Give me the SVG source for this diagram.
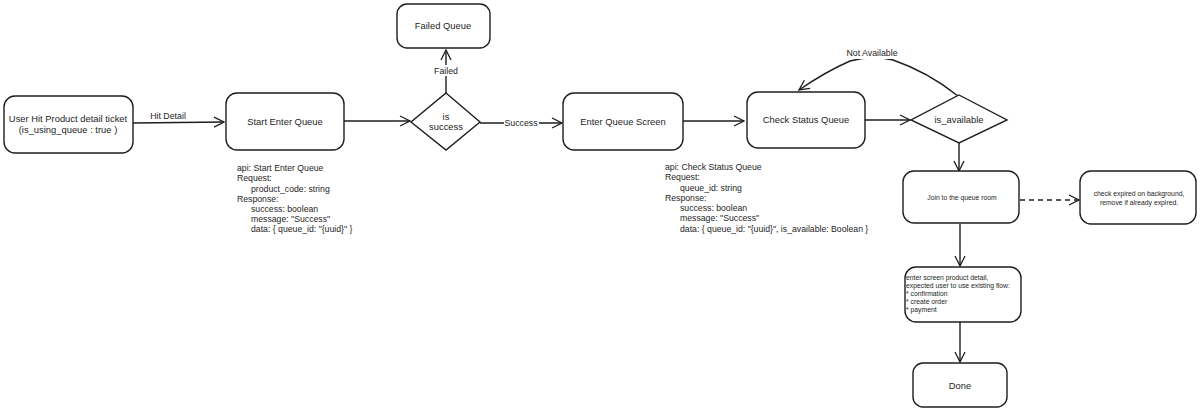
<svg xmlns="http://www.w3.org/2000/svg" width="1200" height="412" viewBox="0 0 1200 412">
<defs>
<style>
.n{fill:#fff;stroke:#1e1e1e;stroke-width:1.4}
.t{font-family:"Liberation Sans",Arial,sans-serif;font-size:9.4px;fill:#1e1e1e;text-anchor:middle}
.s{font-family:"Liberation Sans",Arial,sans-serif;font-size:6.8px;fill:#1e1e1e}
.a{font-family:"Liberation Sans",Arial,sans-serif;font-size:8.7px;fill:#1e1e1e}
.c{fill:none;stroke:#1e1e1e;stroke-width:1.4}
.l{font-family:"Liberation Sans",Arial,sans-serif;font-size:8.8px;fill:#1e1e1e;text-anchor:middle}
</style>
<marker id="ah" viewBox="0 0 12 12" refX="11" refY="6" markerWidth="12" markerHeight="12" markerUnits="userSpaceOnUse" orient="auto">
<path d="M1 1 L11 6 L1 11" fill="none" stroke="#1e1e1e" stroke-width="1.3"/>
</marker>
</defs>
<rect width="1200" height="412" fill="#fff"/>
<g id="connectors">
<path class="c" d="M133 123 L224 122" marker-end="url(#ah)"/>
<text class="l" x="168" y="119">Hit Detail</text>
<path class="c" d="M344 121 L410 121" marker-end="url(#ah)"/>
<path class="c" d="M446 93 L446 50" marker-end="url(#ah)"/>
<rect x="431" y="65" width="30" height="11" fill="#fff"/>
<text class="l" x="446" y="74">Failed</text>
<path class="c" d="M480 123 L562 123" marker-end="url(#ah)"/>
<rect x="504" y="118" width="35" height="10" fill="#fff"/>
<text class="l" x="521" y="126">Success</text>
<path class="c" d="M683 121 L744 121" marker-end="url(#ah)"/>
<path class="c" d="M865 120 L910 120" marker-end="url(#ah)"/>
<path class="c" d="M958 96 Q 928 72 893 60 Q 872 55 850 61 Q 825 72 799 90" marker-end="url(#ah)"/>
<rect x="844" y="48" width="56" height="11" fill="#fff"/>
<text class="l" x="872" y="56">Not Available</text>
<path class="c" d="M959 143 L959 171" marker-end="url(#ah)"/>
<path class="c" d="M1020 200 L1079 200" stroke-dasharray="5 4" marker-end="url(#ah)"/>
<path class="c" d="M960 224 L960 266" marker-end="url(#ah)"/>
<path class="c" d="M960 322 L960 362" marker-end="url(#ah)"/>
</g>
<g id="user-hit">
<rect class="n" x="4" y="96" width="129" height="57" rx="11"/>
<text class="t" x="68" y="122">User Hit Product detail ticket</text>
<text class="t" x="68" y="133">(is_using_queue : true )</text>
</g>
<g id="start-enter-queue">
<rect class="n" x="226" y="93" width="118" height="57" rx="11"/>
<text class="t" x="285" y="125">Start Enter Queue</text>
</g>
<g id="is-success">
<path class="n" d="M446 93 L480 122 L446 150 L411 122 Z"/>
<text class="t" x="446" y="120">is</text>
<text class="t" x="446" y="130">success</text>
</g>
<g id="failed-queue">
<rect class="n" x="397" y="4" width="93" height="44" rx="10"/>
<text class="t" x="443" y="29">Failed Queue</text>
</g>
<g id="enter-queue-screen">
<rect class="n" x="563" y="93" width="120" height="57" rx="11"/>
<text class="t" x="623" y="125">Enter Queue Screen</text>
</g>
<g id="check-status-queue">
<rect class="n" x="747" y="92" width="118" height="56" rx="11"/>
<text class="t" x="806" y="123">Check Status Queue</text>
</g>
<g id="is-available">
<path class="n" d="M959 95 L1007 120 L959 143 L911 120 Z"/>
<text class="t" x="959" y="123">is_available</text>
</g>
<g id="join-queue-room">
<rect class="n" x="903" y="171" width="116" height="52" rx="11"/>
<text class="s" x="962" y="200" text-anchor="middle" font-size="7.2">Join to the queue room</text>
</g>
<g id="check-expired">
<rect class="n" x="1080" y="171" width="116" height="53" rx="11"/>
<text class="s" x="1139" y="196" text-anchor="middle" font-size="7.2">check expired on background,</text>
<text class="s" x="1139" y="205" text-anchor="middle" font-size="7.2">remove if already expired.</text>
</g>
<g id="enter-screen-product">
<rect class="n" x="905" y="267" width="116" height="55" rx="11"/>
<text class="s" x="906" y="280">enter screen product detail,</text>
<text class="s" x="906" y="288">expected user to use existing flow:</text>
<text class="s" x="906" y="296">* confirmation</text>
<text class="s" x="906" y="304">* create order</text>
<text class="s" x="906" y="312">* payment</text>
</g>
<g id="done">
<rect class="n" x="913" y="363" width="94" height="44" rx="10"/>
<text class="t" x="960" y="389">Done</text>
</g>
<g id="api-start-enter-queue">
<text class="a" x="237" y="171">api: Start Enter Queue</text>
<text class="a" x="237" y="181">Request:</text>
<text class="a" x="251" y="192">product_code: string</text>
<text class="a" x="237" y="202">Response:</text>
<text class="a" x="251" y="212">success: boolean</text>
<text class="a" x="251" y="222">message: "Success"</text>
<text class="a" x="251" y="232">data: { queue_id: "{uuid}" }</text>
</g>
<g id="api-check-status-queue">
<text class="a" x="665" y="170">api: Check Status Queue</text>
<text class="a" x="665" y="180">Request:</text>
<text class="a" x="680" y="191">queue_id: string</text>
<text class="a" x="665" y="201">Response:</text>
<text class="a" x="680" y="211">success: boolean</text>
<text class="a" x="680" y="221">message: "Success"</text>
<text class="a" x="680" y="232">data: { queue_id: "{uuid}", is_available: Boolean }</text>
</g>
</svg>
